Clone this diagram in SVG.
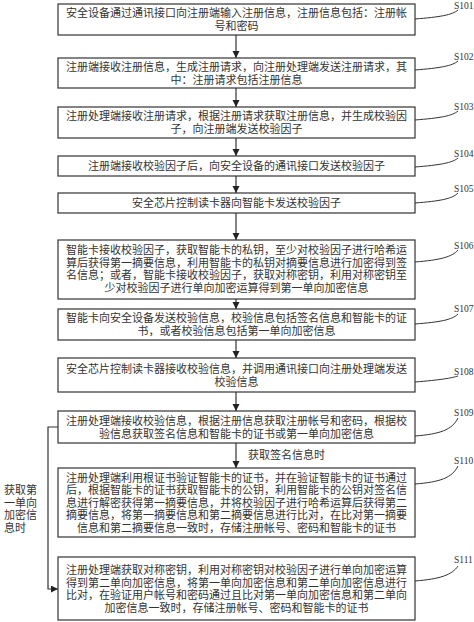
<svg xmlns="http://www.w3.org/2000/svg" width="474" height="622" viewBox="0 0 474 622">
<style>
.box{fill:#fff;stroke:#333;stroke-width:1.2}
.t{font-family:"Noto Sans CJK SC","Noto Sans CJK JP",sans-serif;font-size:11px;fill:#333;text-anchor:middle}
.tl{font-family:"Noto Sans CJK SC","Noto Sans CJK JP",sans-serif;font-size:11px;fill:#333}
.s{font-family:"Liberation Serif",serif;font-size:9.5px;fill:#333}
.ln{fill:none;stroke:#333;stroke-width:1.2}
.ld{fill:none;stroke:#333;stroke-width:1}
</style>
<defs>
<marker id="ah" markerUnits="userSpaceOnUse" markerWidth="8" markerHeight="8" refX="7" refY="3.5" orient="auto">
<path d="M0,0 L7,3.5 L0,7 z" fill="#222"/>
</marker>
</defs>
<rect width="474" height="622" fill="#fff"/>

<g id="connectors">
<line class="ln" x1="236" y1="35" x2="236" y2="58" marker-end="url(#ah)"/>
<line class="ln" x1="236" y1="88" x2="236" y2="107" marker-end="url(#ah)"/>
<line class="ln" x1="236" y1="138" x2="236" y2="156" marker-end="url(#ah)"/>
<line class="ln" x1="236" y1="176" x2="236" y2="193" marker-end="url(#ah)"/>
<line class="ln" x1="236" y1="213" x2="236" y2="240" marker-end="url(#ah)"/>
<line class="ln" x1="236" y1="299" x2="236" y2="309" marker-end="url(#ah)"/>
<line class="ln" x1="236" y1="340" x2="236" y2="358" marker-end="url(#ah)"/>
<line class="ln" x1="236" y1="392" x2="236" y2="411" marker-end="url(#ah)"/>
<line class="ln" x1="236" y1="443" x2="236" y2="468" marker-end="url(#ah)"/>
<text class="tl" x="248" y="459">获取签名信息时</text>
<polyline class="ln" points="58,427 48,427 48,589 58,589" marker-end="url(#ah)"/>
<text class="tl"><tspan x="4" y="494">获取第</tspan><tspan x="4" y="506.5">一单向</tspan><tspan x="4" y="519">加密信</tspan><tspan x="4" y="531.5">息时</tspan></text>
</g>

<g id="S101">
<rect class="box" x="58" y="4" width="357" height="31"/>
<text class="t"><tspan x="236.5" y="17">安全设备通过通讯接口向注册端输入注册信息，注册信息包括：注册帐</tspan><tspan x="236.5" y="30">号和密码</tspan></text>
<path class="ld" d="M415,19 C440,17 452,15 458,10"/>
<text class="s" x="454" y="9">S101</text>
</g>

<g id="S102">
<rect class="box" x="58" y="58" width="357" height="30"/>
<text class="t"><tspan x="236.5" y="70.5">注册端接收注册信息，生成注册请求，向注册处理端发送注册请求，其</tspan><tspan x="236.5" y="83.5">中：注册请求包括注册信息</tspan></text>
<path class="ld" d="M415,70 C440,68 452,66 458,61"/>
<text class="s" x="454" y="60">S102</text>
</g>

<g id="S103">
<rect class="box" x="58" y="107" width="357" height="31"/>
<text class="t"><tspan x="236.5" y="120">注册处理端接收注册请求，根据注册请求获取注册信息，并生成校验因</tspan><tspan x="236.5" y="133">子，向注册端发送校验因子</tspan></text>
<path class="ld" d="M415,120 C440,118 452,116 458,111"/>
<text class="s" x="454" y="110">S103</text>
</g>

<g id="S104">
<rect class="box" x="58" y="156" width="357" height="20"/>
<text class="t" x="236.5" y="170">注册端接收校验因子后，向安全设备的通讯接口发送校验因子</text>
<path class="ld" d="M415,167 C440,165 452,163 458,158"/>
<text class="s" x="454" y="157">S104</text>
</g>

<g id="S105">
<rect class="box" x="58" y="193" width="357" height="20"/>
<text class="t" x="236.5" y="207">安全芯片控制读卡器向智能卡发送校验因子</text>
<path class="ld" d="M415,203 C440,201 452,199 458,193"/>
<text class="s" x="454" y="192">S105</text>
</g>

<g id="S106">
<rect class="box" x="58" y="240" width="357" height="59"/>
<text class="t"><tspan x="236.5" y="254">智能卡接收校验因子，获取智能卡的私钥，至少对校验因子进行哈希运</tspan><tspan x="236.5" y="266.5">算后获得第一摘要信息，利用智能卡的私钥对摘要信息进行加密得到签</tspan><tspan x="236.5" y="279">名信息；或者，智能卡接收校验因子，获取对称密钥，利用对称密钥至</tspan><tspan x="236.5" y="291.5">少对校验因子进行单向加密运算得到第一单向加密信息</tspan></text>
<path class="ld" d="M415,262 C440,260 452,257 458,250"/>
<text class="s" x="454" y="249">S106</text>
</g>

<g id="S107">
<rect class="box" x="58" y="309" width="357" height="31"/>
<text class="t"><tspan x="236.5" y="322">智能卡向安全设备发送校验信息，校验信息包括签名信息和智能卡的证</tspan><tspan x="236.5" y="335">书，或者校验信息包括第一单向加密信息</tspan></text>
<path class="ld" d="M415,324 C440,322 452,320 458,314"/>
<text class="s" x="454" y="312">S107</text>
</g>

<g id="S108">
<rect class="box" x="58" y="358" width="357" height="34"/>
<text class="t"><tspan x="236.5" y="372.5">安全芯片控制读卡器接收校验信息，并调用通讯接口向注册处理端发送</tspan><tspan x="236.5" y="385.5">校验信息</tspan></text>
<path class="ld" d="M415,382 C440,380 452,378 458,376"/>
<text class="s" x="454" y="375">S108</text>
</g>

<g id="S109">
<rect class="box" x="58" y="411" width="357" height="32"/>
<text class="t"><tspan x="236.5" y="424.5">注册处理端接收校验信息，根据注册信息获取注册帐号和密码，根据校</tspan><tspan x="236.5" y="437.5">验信息获取签名信息和智能卡的证书或第一单向加密信息</tspan></text>
<path class="ld" d="M415,436 C440,434 452,430 458,418"/>
<text class="s" x="454" y="416">S109</text>
</g>

<g id="S110">
<rect class="box" x="58" y="468" width="357" height="69"/>
<text class="t"><tspan x="236.5" y="481.5">注册处理端利用根证书验证智能卡的证书，并在验证智能卡的证书通过</tspan><tspan x="236.5" y="494">后，根据智能卡的证书获取智能卡的公钥，利用智能卡的公钥对签名信</tspan><tspan x="236.5" y="506.5">息进行解密获得第一摘要信息，并将校验因子进行哈希运算后获得第二</tspan><tspan x="236.5" y="519">摘要信息，将第一摘要信息和第二摘要信息进行比对，在比对第一摘要</tspan><tspan x="236.5" y="531.5">信息和第二摘要信息一致时，存储注册帐号、密码和智能卡的证书</tspan></text>
<path class="ld" d="M415,484 C440,482 452,478 458,466"/>
<text class="s" x="454" y="464">S110</text>
</g>

<g id="S111">
<rect class="box" x="58" y="557" width="357" height="63"/>
<text class="t"><tspan x="236.5" y="574">注册处理端获取对称密钥，利用对称密钥对校验因子进行单向加密运算</tspan><tspan x="236.5" y="586.5">得到第二单向加密信息，将第一单向加密信息和第二单向加密信息进行</tspan><tspan x="236.5" y="599">比对，在验证用户帐号和密码通过且比对第一单向加密信息和第二单向</tspan><tspan x="236.5" y="611.5">加密信息一致时，存储注册帐号、密码和智能卡的证书</tspan></text>
<path class="ld" d="M415,581 C440,579 452,575 458,566"/>
<text class="s" x="454" y="563">S111</text>
</g>
</svg>
